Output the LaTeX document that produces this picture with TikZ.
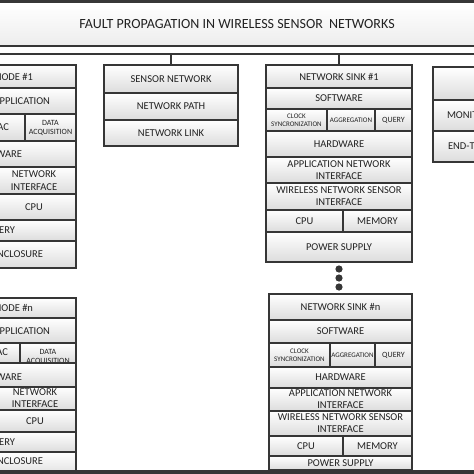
\documentclass[tikz,border=0pt]{standalone}
\usepackage{fontspec}
\setmainfont{Carlito}
\definecolor{bd}{HTML}{363636}
\definecolor{tx}{HTML}{222222}
\definecolor{cb}{HTML}{DCDCDC}
\tikzset{
 cellsty/.style={draw=bd, line width=1.2pt, top color=white, bottom color=cb, inner sep=0pt, outer sep=0pt, text=tx, font=\fontsize{10.5}{12}\selectfont, align=center},
 framesty/.style={draw=bd, line width=2.2pt, inner sep=0pt, outer sep=0pt},
 txt/.style={text=tx, inner sep=0pt, outer sep=0pt, font=\fontsize{10.5}{12}\selectfont, align=center},
 smalltxt/.style={font=\fontsize{7}{8}\selectfont},
 midtxt/.style={font=\fontsize{8}{9}\selectfont},
 twoline/.style={font=\fontsize{10.5}{13}\selectfont},
 bus/.style={draw=bd, line width=1.6pt},
 dotsty/.style={circle, fill=bd, minimum size=7.2pt, inner sep=0pt},
 titlesty/.style={draw=bd, line width=2.2pt, top color=white, bottom color=gray!14, inner sep=0pt, outer sep=0pt, text=tx, font=\fontsize{14}{16}\selectfont},
}
\newcommand{\cel}[7][]{\node[cellsty,#1,minimum width={(#5)-(#3)},minimum height={(#6)-(#4)}] (#2) at ({((#3)+(#5))/2},{((#4)+(#6))/2}) {#7};}
\newcommand{\frm}[5]{\node[framesty,minimum width={(#4)-(#2)},minimum height={(#5)-(#3)}] (#1) at ({((#2)+(#4))/2},{((#3)+(#5))/2}) {};}
\begin{document}
\begin{tikzpicture}[x=1pt,y=-1pt]
\useasboundingbox (0,0) rectangle (474,474);
\clip (0,0) rectangle (474,474);
\fill[white] (0,0) rectangle (474,474);
% title
\node[titlesty,minimum width=500pt,minimum height=44pt] (title) at (237,24) {FAULT PROPAGATION IN WIRELESS SENSOR~ NETWORKS};
% bus
\coordinate (busL) at (-5,54);
\coordinate (busR) at (480,54);
\draw[bus] (busL) -- (busR);
% sensor node #1
\cel{a1}{-40}{65}{76}{88}{}
\node[txt,anchor=east] (a1t) at (33,76.5) {NODE \#1};
\cel{a2}{-40}{88}{76}{114}{}
\node[txt,anchor=east] (a2t) at (50,101) {APPLICATION};
\cel{a3}{-40}{114}{25}{141}{}
\node[txt,anchor=east] (a3t) at (9,127.5) {MAC};
\cel[midtxt]{a3b}{25}{114}{76}{141}{DATA\\ACQUISITION}
\cel{a4}{-40}{141}{76}{167}{}
\node[txt,anchor=east] (a4t) at (22,154) {HARDWARE};
\cel{a5x}{-40}{167}{-8}{194}{}
\cel[twoline]{a5}{-8}{167}{76}{194}{NETWORK\\INTERFACE}
\cel{a6x}{-40}{194}{-8}{220}{}
\cel{a6}{-8}{194}{76}{220}{CPU}
\cel{a7}{-40}{220}{76}{241}{}
\node[txt,anchor=east] (a7t) at (15,230.5) {BATTERY};
\cel{a8}{-40}{241}{76}{268}{}
\node[txt,anchor=east] (a8t) at (43,254.5) {ENCLOSURE};
\frm{na}{-40}{65}{76}{268}
% sensor node #n
\cel{b1}{-40}{298}{76}{318}{}
\node[txt,anchor=east] (b1t) at (33,308) {NODE \#n};
\cel{b2}{-40}{318}{76}{343}{}
\node[txt,anchor=east] (b2t) at (50,331) {APPLICATION};
\cel{b3}{-40}{343}{20}{363}{}
\node[txt,anchor=east] (b3t) at (8,352.5) {MAC};
\cel{b3b}{20}{343}{76}{363}{}
\node[txt,midtxt] (b3bt) at (48,356.5) {DATA\\ACQUISITION};
\cel{b4}{-40}{363}{76}{387}{}
\node[txt,anchor=east] (b4t) at (22,377) {HARDWARE};
\cel{b5x}{-40}{387}{-6}{410}{}
\cel{b5}{-6}{387}{76}{410}{NETWORK\\INTERFACE}
\cel{b6x}{-40}{410}{-6}{432}{}
\cel{b6}{-6}{410}{76}{432}{CPU}
\cel{b7}{-40}{432}{76}{452}{}
\node[txt,anchor=east] (b7t) at (15,442) {BATTERY};
\cel{b8}{-40}{452}{76}{478}{}
\node[txt,anchor=east] (b8t) at (43,461) {ENCLOSURE};
\frm{nb}{-40}{298}{76}{478}
% sensor network
\cel{s1}{104}{65}{238}{93}{SENSOR NETWORK}
\cel{s2}{104}{93}{238}{120}{NETWORK PATH}
\cel{s3}{104}{120}{238}{146}{NETWORK LINK}
\frm{sn}{104}{65}{238}{146}
% network sink #1
\cel{k1}{266}{65}{412}{88}{NETWORK SINK \#1}
\cel{k2}{266}{88}{412}{109}{SOFTWARE}
\cel[smalltxt]{k3a}{266}{109}{327}{131}{CLOCK\\SYNCRONIZATION}
\cel[smalltxt]{k3b}{327}{109}{375}{131}{AGGREGATION}
\cel[midtxt]{k3c}{375}{109}{412}{131}{QUERY}
\cel{k4}{266}{131}{412}{157}{HARDWARE}
\cel{k5}{266}{157}{412}{183}{APPLICATION NETWORK\\INTERFACE}
\cel{k6}{266}{183}{412}{210}{WIRELESS NETWORK SENSOR\\INTERFACE}
\cel{k7a}{266}{210}{343}{232}{CPU}
\cel{k7b}{343}{210}{412}{232}{MEMORY}
\cel{k8}{266}{232}{412}{262}{POWER SUPPLY}
\frm{sk1}{266}{65}{412}{262}
% dots
\node[dotsty] (d1) at (339,269) {};
\node[dotsty] (d2) at (339,278) {};
\node[dotsty] (d3) at (339,287) {};
% network sink #n
\cel{m1}{269}{294}{412}{320}{NETWORK SINK \#n}
\cel{m2}{269}{320}{412}{343}{SOFTWARE}
\cel[smalltxt]{m3a}{269}{343}{330}{367}{CLOCK\\SYNCRONIZATION}
\cel[smalltxt]{m3b}{330}{343}{375}{367}{AGGREGATION}
\cel[midtxt]{m3c}{375}{343}{412}{367}{QUERY}
\cel{m4}{269}{367}{412}{388}{HARDWARE}
\cel{m5}{269}{388}{412}{411}{APPLICATION NETWORK\\INTERFACE}
\cel{m6}{269}{411}{412}{436}{WIRELESS NETWORK SENSOR\\INTERFACE}
\cel{m7a}{269}{436}{343}{456}{CPU}
\cel{m7b}{343}{436}{412}{456}{MEMORY}
\cel{m8}{269}{456}{412}{470}{POWER SUPPLY}
\frm{skn}{269}{294}{412}{478}
% right box
\cel{r1}{433}{67}{500}{100}{}
\cel{r2}{433}{100}{500}{131}{}
\node[txt,anchor=west] (r2t) at (447,115.5) {MONITORING};
\cel{r3}{433}{131}{500}{162}{}
\node[txt,anchor=west] (r3t) at (448,146.5) {END-TO-END};
\frm{rb}{433}{67}{500}{162}
% stubs
\draw[bus] (sn.north) -- (sn.north |- busL);
\draw[bus] (sk1.north) -- (sk1.north |- busL);
% frame bands
\fill[bd] (0,0) rectangle (474,2.5);
\fill[bd] (0,470) rectangle (474,474);
\end{tikzpicture}
\end{document}
